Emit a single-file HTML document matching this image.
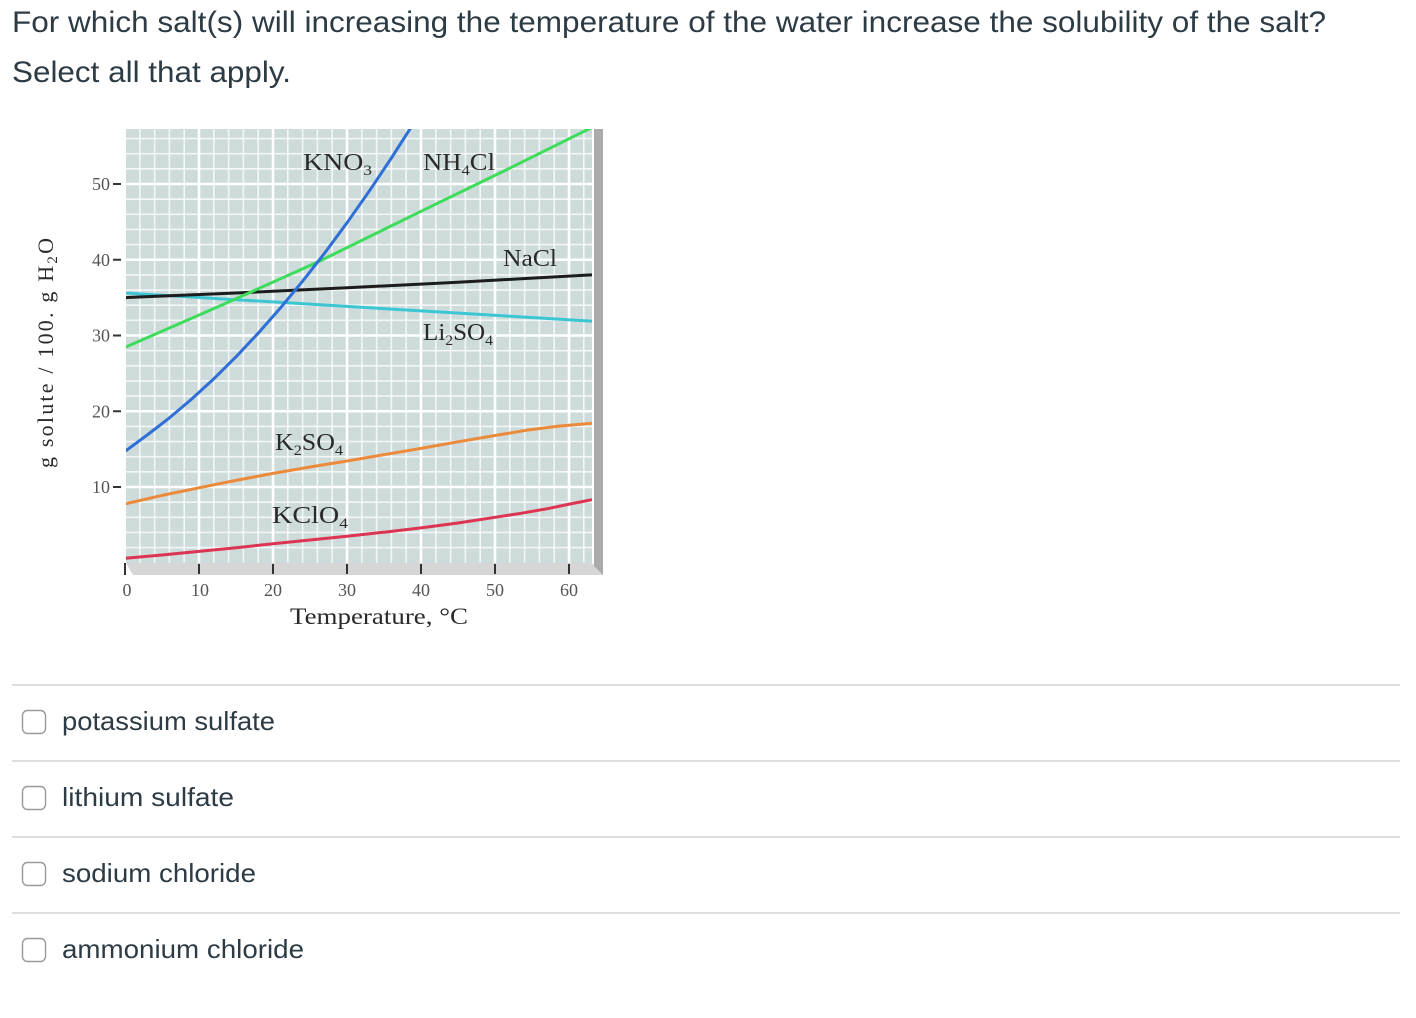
<!DOCTYPE html>
<html><head><meta charset="utf-8"><style>
html,body{margin:0;padding:0;background:#fff;}
svg{display:block;}
</style></head><body>
<svg width="1416" height="1018" viewBox="0 0 1416 1018" xmlns="http://www.w3.org/2000/svg">
<rect width="1416" height="1018" fill="#fff"/>
<g font-family="'Liberation Sans', sans-serif" fill="#2d3b45">
<text x="12" y="32" font-size="30" textLength="1314" lengthAdjust="spacingAndGlyphs">For which salt(s) will increasing the temperature of the water increase the solubility of the salt?</text>
<text x="12" y="82" font-size="30" textLength="279" lengthAdjust="spacingAndGlyphs">Select all that apply.</text>
</g>
<defs><clipPath id="pc"><rect x="126" y="129" width="466" height="434"/></clipPath></defs>
<rect x="126" y="129" width="466" height="434" fill="#cddbdb"/>
<g stroke="#ffffff" stroke-opacity="0.75" stroke-width="1.6" fill="none">
<path d="M139.8 129V563M154.6 129V563M169.4 129V563M184.2 129V563M213.8 129V563M228.6 129V563M243.4 129V563M258.2 129V563M287.8 129V563M302.6 129V563M317.4 129V563M332.2 129V563M361.8 129V563M376.6 129V563M391.4 129V563M406.2 129V563M435.8 129V563M450.6 129V563M465.4 129V563M480.2 129V563M509.8 129V563M524.6 129V563M539.4 129V563M554.2 129V563M583.8 129V563"/>
<path d="M126 547.6H592M126 532.45H592M126 517.3H592M126 502.15H592M126 471.85H592M126 456.7H592M126 441.55H592M126 426.4H592M126 396.1H592M126 380.95H592M126 365.8H592M126 350.65H592M126 320.35H592M126 305.2H592M126 290.05H592M126 274.9H592M126 244.6H592M126 229.45H592M126 214.3H592M126 199.15H592M126 168.85H592M126 153.7H592M126 138.55H592"/>
</g>
<g stroke="#ffffff" stroke-width="2.6" fill="none">
<path d="M199 129V563M273 129V563M347 129V563M421 129V563M495 129V563M569 129V563"/>
<path d="M126 487H592M126 411.25H592M126 335.5H592M126 259.75H592M126 184H592"/>
</g>
<polygon points="126,563 592,563 603,575 133,575" fill="#d6d6d6"/>
<polygon points="594,129 603,129 603,575 594,566" fill="#ababab"/>
<g clip-path="url(#pc)" fill="none" stroke-width="3" stroke-linejoin="round" stroke-linecap="round">
<polyline stroke="#dc3452" points="126,558.2 162,555 199,551.4 236,547.7 273,543.8 310,540 347,536.2 384,532.2 421,527.9 458,523 495,517.3 521,513.3 546.8,508.8 570,504 591,499.9"/>
<polyline stroke="#ec8a3c" points="126,503.7 162,495.4 199,487.8 236,480.4 273,473.4 310,467 347,461 384,454.7 421,448.4 458,441.8 495,435.5 530,429.7 560,426 591,423.4"/>
<polyline stroke="#3cc6d3" points="126,293.1 591,321.1"/>
<polyline stroke="#1c1c1c" points="126,297.6 236,293 347,287.8 458,282.2 591,274.9"/>
<polyline stroke="#3ddc5a" points="126,346.9 222,305 317.8,262 421,211.3 506,170 591,127.9"/>
<polyline stroke="#2f6fd6" points="126,450.6 147.2,435 169.4,417.9 191.6,399.1 213.8,378.8 236,356.8 258.2,333.2 280.4,308 302.6,281.2 324.8,252.9 347,222.8 369.2,191.2 391.4,158 413.6,123.3"/>
</g>
<g stroke="#333" stroke-width="2">
<path d="M113 184H121M113 259.75H121M113 335.5H121M113 411.25H121M113 487H121"/>
<path d="M125 563V575M199 564V574M273 564V574M347 564V574M421 564V574M495 564V574M569 564V574"/>
</g>
<g font-family="'Liberation Serif', serif" font-size="18" fill="#555">
<text x="110" y="190" text-anchor="end">50</text>
<text x="110" y="265.75" text-anchor="end">40</text>
<text x="110" y="341.5" text-anchor="end">30</text>
<text x="110" y="417.25" text-anchor="end">20</text>
<text x="110" y="493" text-anchor="end">10</text>
<text x="127" y="596" text-anchor="middle">0</text>
<text x="200" y="596" text-anchor="middle">10</text>
<text x="273" y="596" text-anchor="middle">20</text>
<text x="347" y="596" text-anchor="middle">30</text>
<text x="421" y="596" text-anchor="middle">40</text>
<text x="495" y="596" text-anchor="middle">50</text>
<text x="569" y="596" text-anchor="middle">60</text>
</g>
<g font-family="'Liberation Serif', serif" fill="#2a2a2a">
<text x="290" y="624" font-size="23" textLength="178" lengthAdjust="spacingAndGlyphs">Temperature, °C</text>
<text transform="rotate(-90 53 353)" x="53" y="353" font-size="22" text-anchor="middle" textLength="230">g solute / 100. g H<tspan font-size="15" dy="4">2</tspan><tspan dy="-4">O</tspan></text>
<text x="303" y="170" font-size="24" textLength="69" lengthAdjust="spacingAndGlyphs">KNO<tspan font-size="15" dy="5">3</tspan></text>
<text x="423" y="170" font-size="24" textLength="72" lengthAdjust="spacingAndGlyphs">NH<tspan font-size="15" dy="5">4</tspan><tspan dy="-5">Cl</tspan></text>
<text x="503" y="266" font-size="24" textLength="54" lengthAdjust="spacingAndGlyphs">NaCl</text>
<text x="423" y="340" font-size="24" textLength="70" lengthAdjust="spacingAndGlyphs">Li<tspan font-size="15" dy="5">2</tspan><tspan dy="-5">SO</tspan><tspan font-size="15" dy="5">4</tspan></text>
<text x="275" y="450" font-size="24" textLength="68" lengthAdjust="spacingAndGlyphs">K<tspan font-size="15" dy="5">2</tspan><tspan dy="-5">SO</tspan><tspan font-size="15" dy="5">4</tspan></text>
<text x="272" y="523" font-size="24" textLength="76" lengthAdjust="spacingAndGlyphs">KClO<tspan font-size="15" dy="5">4</tspan></text>
</g>
<g stroke="#dddddd" stroke-width="2">
<path d="M12 685H1400M12 761H1400M12 837H1400M12 913H1400"/>
</g>
<g fill="#fff" stroke="#9a9a9a" stroke-width="1.4">
<rect x="22.5" y="710.5" width="23" height="23" rx="5"/>
<rect x="22.5" y="786.5" width="23" height="23" rx="5"/>
<rect x="22.5" y="862.5" width="23" height="23" rx="5"/>
<rect x="22.5" y="938.5" width="23" height="23" rx="5"/>
</g>
<g font-family="'Liberation Sans', sans-serif" font-size="26" fill="#2d3b45">
<text x="62" y="730" textLength="213" lengthAdjust="spacingAndGlyphs">potassium sulfate</text>
<text x="62" y="806" textLength="172" lengthAdjust="spacingAndGlyphs">lithium sulfate</text>
<text x="62" y="882" textLength="194" lengthAdjust="spacingAndGlyphs">sodium chloride</text>
<text x="62" y="958" textLength="242" lengthAdjust="spacingAndGlyphs">ammonium chloride</text>
</g>
</svg>
</body></html>
